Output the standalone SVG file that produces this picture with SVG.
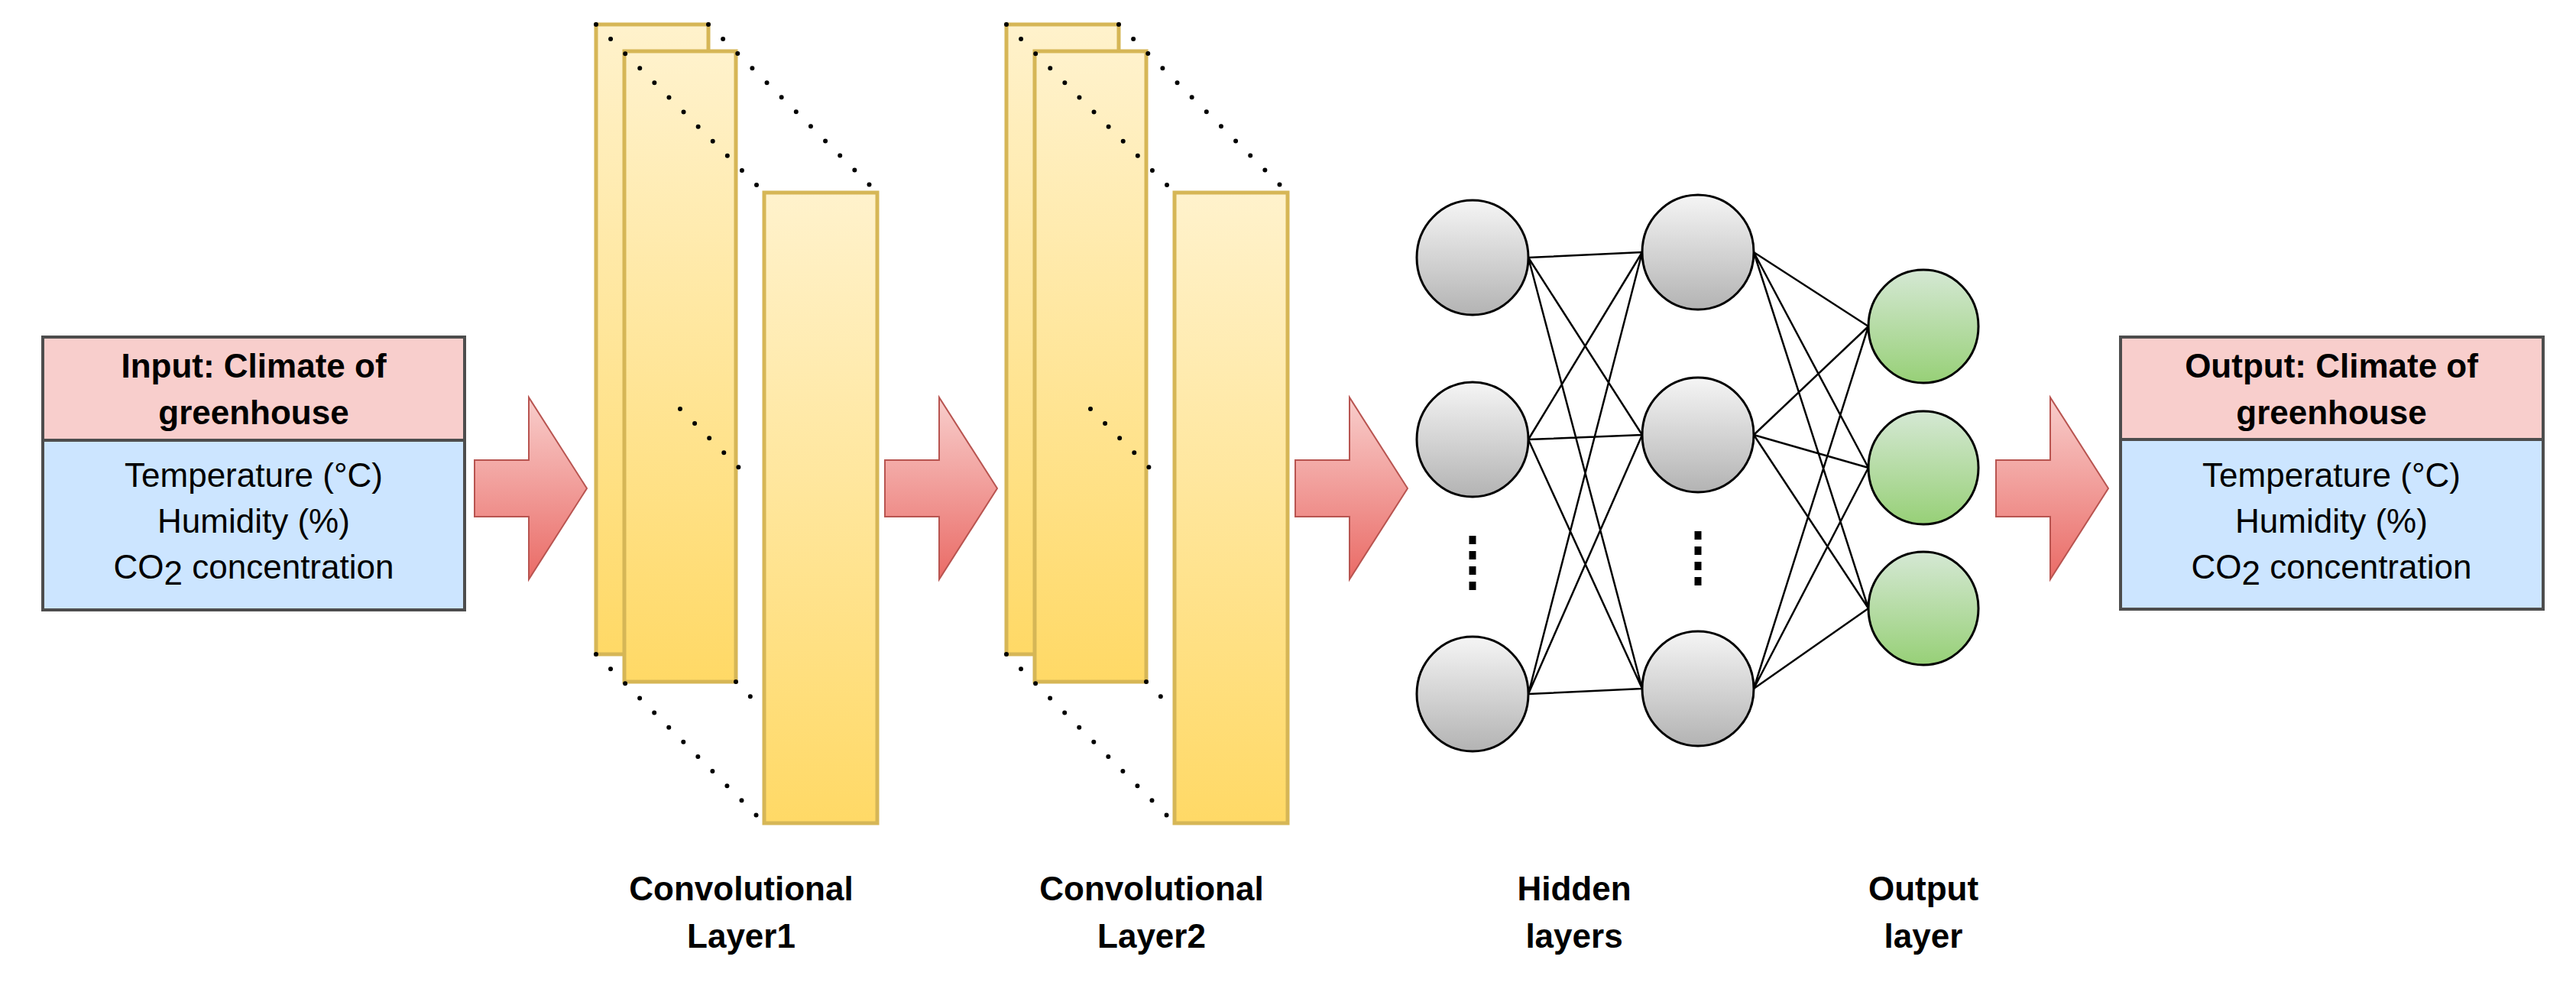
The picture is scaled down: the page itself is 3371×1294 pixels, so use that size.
<svg xmlns="http://www.w3.org/2000/svg" width="3371" height="1294" viewBox="0 0 3371 1294">
<defs>
<linearGradient id="gy" x1="0" y1="0" x2="0" y2="1"><stop offset="0" stop-color="#fff2cc"/><stop offset="1" stop-color="#ffd966"/></linearGradient>
<linearGradient id="gg" x1="0" y1="0" x2="0" y2="1"><stop offset="0" stop-color="#f5f5f5"/><stop offset="1" stop-color="#b3b3b3"/></linearGradient>
<linearGradient id="gn" x1="0" y1="0" x2="0" y2="1"><stop offset="0" stop-color="#d5e8d4"/><stop offset="1" stop-color="#97d077"/></linearGradient>
<linearGradient id="gr" x1="0" y1="0" x2="0" y2="1"><stop offset="0" stop-color="#f8cecc"/><stop offset="1" stop-color="#ea6b66"/></linearGradient>
<polygon id="arrow" points="0,-37 71,-37 71,-119 147,0 71,119 71,37 0,37"/>
</defs>
<style>
.cv{fill:url(#gy);stroke:#d6b656;stroke-width:5}
.hd{fill:url(#gg);stroke:#000;stroke-width:3}
.on{fill:url(#gn);stroke:#000;stroke-width:3}
.ar{fill:url(#gr);stroke:#b85450;stroke-width:2}
.dot{stroke:#000;stroke-width:6;stroke-linecap:round;stroke-dasharray:0 27;fill:none}
.ln{stroke:#000;stroke-width:2.5;fill:none}
.hdr{fill:#f8cecc;stroke:#4d4d4d;stroke-width:4}
.bdy{fill:#cce5ff;stroke:#4d4d4d;stroke-width:4}
text{font-family:"Liberation Sans",Arial,sans-serif;font-size:44px;text-anchor:middle;fill:#000}
.b{font-weight:bold}
.vd{stroke:#000;stroke-width:9;stroke-dasharray:11 9}
</style>
<g id="input">
<rect class="hdr" x="56" y="441" width="552" height="135"/>
<rect class="bdy" x="56" y="576" width="552" height="222"/>
<text class="b" x="332" y="494">Input: Climate of</text>
<text class="b" x="332" y="555">greenhouse</text>
<text x="332" y="637">Temperature (°C)</text>
<text x="332" y="697">Humidity (%)</text>
<text x="332" y="757">CO<tspan font-size="44" dy="8">2</tspan><tspan dy="-8"> concentration</tspan></text>
</g>
<g id="arrows">
<use href="#arrow" class="ar" x="621" y="639"/>
<use href="#arrow" class="ar" x="1158" y="639"/>
<use href="#arrow" class="ar" x="1695" y="639"/>
<use href="#arrow" class="ar" x="2612" y="639"/>
</g>
<g id="conv1">
<rect class="cv" x="780" y="32" width="147" height="824"/>
<rect class="cv" x="817" y="67" width="146" height="825"/>
<path class="dot" d="M780,32L1000,252M927,32L1148,252M780,856L1000,1077M963,892L1000,930M890,535L985,630"/>
<rect class="cv" x="1000" y="252" width="148" height="825"/>
</g>
<g id="conv2" transform="translate(537,0)">
<rect class="cv" x="780" y="32" width="147" height="824"/>
<rect class="cv" x="817" y="67" width="146" height="825"/>
<path class="dot" d="M780,32L1000,252M927,32L1148,252M780,856L1000,1077M963,892L1000,930M890,535L985,630"/>
<rect class="cv" x="1000" y="252" width="148" height="825"/>
</g>
<g id="connectors">
<path class="ln" d="M2000,337L2149,330M2000,337L2149,569M2000,337L2149,901M2000,575L2149,330M2000,575L2149,569M2000,575L2149,901M2000,908L2149,330M2000,908L2149,569M2000,908L2149,901"/>
<path class="ln" d="M2295,330L2445,427M2295,330L2445,612M2295,330L2445,796M2295,569L2445,427M2295,569L2445,612M2295,569L2445,796M2295,901L2445,427M2295,901L2445,612M2295,901L2445,796"/>
</g>
<g id="hidden1">
<ellipse class="hd" cx="1927" cy="337" rx="73" ry="75"/>
<ellipse class="hd" cx="1927" cy="575" rx="73" ry="75"/>
<ellipse class="hd" cx="1927" cy="908" rx="73" ry="75"/>
<line class="vd" x1="1927" y1="701" x2="1927" y2="773"/>
</g>
<g id="hidden2">
<ellipse class="hd" cx="2222" cy="330" rx="73" ry="75"/>
<ellipse class="hd" cx="2222" cy="569" rx="73" ry="75"/>
<ellipse class="hd" cx="2222" cy="901" rx="73" ry="75"/>
<line class="vd" x1="2222" y1="695" x2="2222" y2="767"/>
</g>
<g id="outlayer">
<ellipse class="on" cx="2517" cy="427" rx="72" ry="74"/>
<ellipse class="on" cx="2517" cy="612" rx="72" ry="74"/>
<ellipse class="on" cx="2517" cy="796" rx="72" ry="74"/>
</g>
<g id="output">
<rect class="hdr" x="2775" y="441" width="553" height="134"/>
<rect class="bdy" x="2775" y="575" width="553" height="222"/>
<text class="b" x="3051" y="494">Output: Climate of</text>
<text class="b" x="3051" y="555">greenhouse</text>
<text x="3051" y="637">Temperature (°C)</text>
<text x="3051" y="697">Humidity (%)</text>
<text x="3051" y="757">CO<tspan dy="8">2</tspan><tspan dy="-8"> concentration</tspan></text>
</g>
<g id="labels">
<text class="b" x="970" y="1178">Convolutional</text>
<text class="b" x="970" y="1240">Layer1</text>
<text class="b" x="1507" y="1178">Convolutional</text>
<text class="b" x="1507" y="1240">Layer2</text>
<text class="b" x="2060" y="1178">Hidden</text>
<text class="b" x="2060" y="1240">layers</text>
<text class="b" x="2517" y="1178">Output</text>
<text class="b" x="2517" y="1240">layer</text>
</g>
</svg>
